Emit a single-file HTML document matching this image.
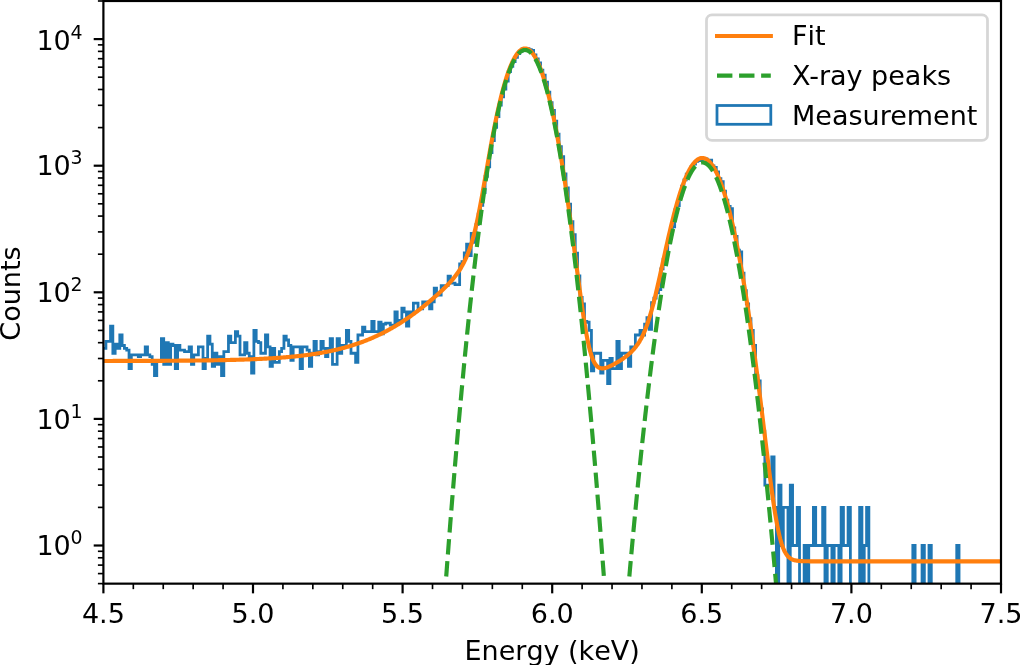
<!DOCTYPE html>
<html lang="en"><head><meta charset="utf-8"><title>Energy spectrum fit</title>
<style>
html,body{margin:0;padding:0;background:#fff;}
body{width:1020px;height:665px;overflow:hidden;}
svg{display:block;}
text{font-family:"DejaVu Sans","Liberation Sans",sans-serif;font-size:27.0px;fill:#000;}
</style></head><body>
<svg width="1020" height="665" viewBox="0 0 1020 665">
<rect width="1020" height="665" fill="#fff"/>
<defs><clipPath id="ax"><rect x="103.4" y="1.0" width="897.6" height="582.65"/></clipPath></defs>
<g clip-path="url(#ax)" fill="none" stroke-linejoin="miter">
<path d="M96.67,633.99 L96.67,366.36 L98.98,366.36 L98.98,341.32 L101.29,341.32 L101.29,348.47 L103.61,348.47 L103.61,348.47 L105.92,348.47 L105.92,341.32 L108.23,341.32 L108.23,341.32 L110.54,341.32 L110.54,326.18 L112.85,326.18 L112.85,353.26 L115.17,353.26 L115.17,344.07 L117.48,344.07 L117.48,348.47 L119.79,348.47 L119.79,334.99 L122.10,334.99 L122.10,345.50 L124.41,345.50 L124.41,348.47 L126.73,348.47 L126.73,350.02 L129.04,350.02 L129.04,368.52 L131.35,368.52 L131.35,354.95 L133.66,354.95 L133.66,354.95 L135.97,354.95 L135.97,354.95 L138.29,354.95 L138.29,356.69 L140.60,356.69 L140.60,354.95 L142.91,354.95 L142.91,354.95 L145.22,354.95 L145.22,346.97 L147.53,346.97 L147.53,354.95 L149.85,354.95 L149.85,356.69 L152.16,356.69 L152.16,364.29 L154.47,364.29 L154.47,375.55 L156.78,375.55 L156.78,360.36 L159.09,360.36 L159.09,360.36 L161.41,360.36 L161.41,338.70 L163.72,338.70 L163.72,364.29 L166.03,364.29 L166.03,342.68 L168.34,342.68 L168.34,364.29 L170.65,364.29 L170.65,344.07 L172.97,344.07 L172.97,345.50 L175.28,345.50 L175.28,368.52 L177.59,368.52 L177.59,345.50 L179.90,345.50 L179.90,350.02 L182.21,350.02 L182.21,350.02 L184.53,350.02 L184.53,351.61 L186.84,351.61 L186.84,351.61 L189.15,351.61 L189.15,346.97 L191.46,346.97 L191.46,364.29 L193.77,364.29 L193.77,354.95 L196.09,354.95 L196.09,354.95 L198.40,354.95 L198.40,346.97 L200.71,346.97 L200.71,346.97 L203.02,346.97 L203.02,368.52 L205.33,368.52 L205.33,358.50 L207.65,358.50 L207.65,336.20 L209.96,336.20 L209.96,344.07 L212.27,344.07 L212.27,366.36 L214.58,366.36 L214.58,353.26 L216.89,353.26 L216.89,364.29 L219.21,364.29 L219.21,356.69 L221.52,356.69 L221.52,375.55 L223.83,375.55 L223.83,351.61 L226.14,351.61 L226.14,351.61 L228.45,351.61 L228.45,336.20 L230.77,336.20 L230.77,342.68 L233.08,342.68 L233.08,342.68 L235.39,342.68 L235.39,331.52 L237.70,331.52 L237.70,336.20 L240.01,336.20 L240.01,354.95 L242.33,354.95 L242.33,354.95 L244.64,354.95 L244.64,342.68 L246.95,342.68 L246.95,353.26 L249.26,353.26 L249.26,356.69 L251.57,356.69 L251.57,373.11 L253.89,373.11 L253.89,330.41 L256.20,330.41 L256.20,341.32 L258.51,341.32 L258.51,342.68 L260.82,342.68 L260.82,353.26 L263.13,353.26 L263.13,353.26 L265.45,353.26 L265.45,334.99 L267.76,334.99 L267.76,346.97 L270.07,346.97 L270.07,366.36 L272.38,366.36 L272.38,348.47 L274.69,348.47 L274.69,362.29 L277.01,362.29 L277.01,362.29 L279.32,362.29 L279.32,351.61 L281.63,351.61 L281.63,348.47 L283.94,348.47 L283.94,336.20 L286.25,336.20 L286.25,340.00 L288.57,340.00 L288.57,345.50 L290.88,345.50 L290.88,360.36 L293.19,360.36 L293.19,346.97 L295.50,346.97 L295.50,346.97 L297.81,346.97 L297.81,346.97 L300.13,346.97 L300.13,368.52 L302.44,368.52 L302.44,346.97 L304.75,346.97 L304.75,346.97 L307.06,346.97 L307.06,350.02 L309.37,350.02 L309.37,366.36 L311.69,366.36 L311.69,353.26 L314.00,353.26 L314.00,341.32 L316.31,341.32 L316.31,354.95 L318.62,354.95 L318.62,351.61 L320.93,351.61 L320.93,341.32 L323.25,341.32 L323.25,348.47 L325.56,348.47 L325.56,356.69 L327.87,356.69 L327.87,348.47 L330.18,348.47 L330.18,338.70 L332.49,338.70 L332.49,364.29 L334.81,364.29 L334.81,364.29 L337.12,364.29 L337.12,338.70 L339.43,338.70 L339.43,353.26 L341.74,353.26 L341.74,345.50 L344.05,345.50 L344.05,345.50 L346.37,345.50 L346.37,330.41 L348.68,330.41 L348.68,341.32 L350.99,341.32 L350.99,353.26 L353.30,353.26 L353.30,353.26 L355.61,353.26 L355.61,362.29 L357.93,362.29 L357.93,334.99 L360.24,334.99 L360.24,334.99 L362.55,334.99 L362.55,327.21 L364.86,327.21 L364.86,331.52 L367.17,331.52 L367.17,331.52 L369.49,331.52 L369.49,331.52 L371.80,331.52 L371.80,321.31 L374.11,321.31 L374.11,331.52 L376.42,331.52 L376.42,331.52 L378.73,331.52 L378.73,322.25 L381.05,322.25 L381.05,333.81 L383.36,333.81 L383.36,324.18 L385.67,324.18 L385.67,323.21 L387.98,323.21 L387.98,323.21 L390.29,323.21 L390.29,325.17 L392.61,325.17 L392.61,325.17 L394.92,325.17 L394.92,311.91 L397.23,311.91 L397.23,322.25 L399.54,322.25 L399.54,320.39 L401.85,320.39 L401.85,308.12 L404.17,308.12 L404.17,311.91 L406.48,311.91 L406.48,326.18 L408.79,326.18 L408.79,311.91 L411.10,311.91 L411.10,313.50 L413.41,313.50 L413.41,303.21 L415.73,303.21 L415.73,303.21 L418.04,303.21 L418.04,308.86 L420.35,308.86 L420.35,308.86 L422.66,308.86 L422.66,301.89 L424.97,301.89 L424.97,301.89 L427.29,301.89 L427.29,301.89 L429.60,301.89 L429.60,308.86 L431.91,308.86 L431.91,301.89 L434.22,301.89 L434.22,288.07 L436.53,288.07 L436.53,295.12 L438.85,295.12 L438.85,295.12 L441.16,295.12 L441.16,285.58 L443.47,285.58 L443.47,285.58 L445.78,285.58 L445.78,285.58 L448.09,285.58 L448.09,276.21 L450.41,276.21 L450.41,283.20 L452.72,283.20 L452.72,283.20 L455.03,283.20 L455.03,284.62 L457.34,284.62 L457.34,284.62 L459.65,284.62 L459.65,263.78 L461.97,263.78 L461.97,261.53 L464.28,261.53 L464.28,252.83 L466.59,252.83 L466.59,244.17 L468.90,244.17 L468.90,255.58 L471.21,255.58 L471.21,233.38 L473.53,233.38 L473.53,242.36 L475.84,242.36 L475.84,224.69 L478.15,224.69 L478.15,214.19 L480.46,214.19 L480.46,205.26 L482.77,205.26 L482.77,192.52 L485.09,192.52 L485.09,176.41 L487.40,176.41 L487.40,166.81 L489.71,166.81 L489.71,152.56 L492.02,152.56 L492.02,140.69 L494.33,140.69 L494.33,127.48 L496.65,127.48 L496.65,116.66 L498.96,116.66 L498.96,105.17 L501.27,105.17 L501.27,96.77 L503.58,96.77 L503.58,89.05 L505.89,89.05 L505.89,81.08 L508.21,81.08 L508.21,71.72 L510.52,71.72 L510.52,66.28 L512.83,66.28 L512.83,61.68 L515.14,61.68 L515.14,57.41 L517.45,57.41 L517.45,53.63 L519.77,53.63 L519.77,51.27 L522.08,51.27 L522.08,48.88 L524.39,48.88 L524.39,48.52 L526.70,48.52 L526.70,48.61 L529.01,48.61 L529.01,49.72 L531.33,49.72 L531.33,50.47 L533.64,50.47 L533.64,54.99 L535.95,54.99 L535.95,58.83 L538.26,58.83 L538.26,62.95 L540.57,62.95 L540.57,70.13 L542.89,70.13 L542.89,75.21 L545.20,75.21 L545.20,82.15 L547.51,82.15 L547.51,92.08 L549.82,92.08 L549.82,102.75 L552.13,102.75 L552.13,110.50 L554.45,110.50 L554.45,121.21 L556.76,121.21 L556.76,134.24 L559.07,134.24 L559.07,146.73 L561.38,146.73 L561.38,156.69 L563.69,156.69 L563.69,173.80 L566.01,173.80 L566.01,187.97 L568.32,187.97 L568.32,204.14 L570.63,204.14 L570.63,221.72 L572.94,221.72 L572.94,234.52 L575.25,234.52 L575.25,253.10 L577.57,253.10 L577.57,275.80 L579.88,275.80 L579.88,297.49 L582.19,297.49 L582.19,303.89 L584.50,303.89 L584.50,321.31 L586.81,321.31 L586.81,322.25 L589.13,322.25 L589.13,330.41 L591.44,330.41 L591.44,370.77 L593.75,370.77 L593.75,353.26 L596.06,353.26 L596.06,353.26 L598.37,353.26 L598.37,353.26 L600.69,353.26 L600.69,373.11 L603.00,373.11 L603.00,360.36 L605.31,360.36 L605.31,360.36 L607.62,360.36 L607.62,383.61 L609.93,383.61 L609.93,358.50 L612.25,358.50 L612.25,368.52 L614.56,368.52 L614.56,368.52 L616.87,368.52 L616.87,341.32 L619.18,341.32 L619.18,368.52 L621.49,368.52 L621.49,353.26 L623.81,353.26 L623.81,353.26 L626.12,353.26 L626.12,353.26 L628.43,353.26 L628.43,366.36 L630.74,366.36 L630.74,346.97 L633.05,346.97 L633.05,346.97 L635.37,346.97 L635.37,334.99 L637.68,334.99 L637.68,334.99 L639.99,334.99 L639.99,330.41 L642.30,330.41 L642.30,334.99 L644.61,334.99 L644.61,324.18 L646.93,324.18 L646.93,317.70 L649.24,317.70 L649.24,329.32 L651.55,329.32 L651.55,302.54 L653.86,302.54 L653.86,298.09 L656.17,298.09 L656.17,292.85 L658.49,292.85 L658.49,289.62 L660.80,289.62 L660.80,268.92 L663.11,268.92 L663.11,259.37 L665.42,259.37 L665.42,250.73 L667.73,250.73 L667.73,242.81 L670.05,242.81 L670.05,233.95 L672.36,233.95 L672.36,226.82 L674.67,226.82 L674.67,209.97 L676.98,209.97 L676.98,205.71 L679.29,205.71 L679.29,196.13 L681.61,196.13 L681.61,186.26 L683.92,186.26 L683.92,179.79 L686.23,179.79 L686.23,174.25 L688.54,174.25 L688.54,171.74 L690.85,171.74 L690.85,166.98 L693.17,166.98 L693.17,164.13 L695.48,164.13 L695.48,161.42 L697.79,161.42 L697.79,159.81 L700.10,159.81 L700.10,160.56 L702.41,160.56 L702.41,158.98 L704.73,158.98 L704.73,158.88 L707.04,158.88 L707.04,160.61 L709.35,160.61 L709.35,160.16 L711.66,160.16 L711.66,165.92 L713.97,165.92 L713.97,167.43 L716.29,167.43 L716.29,171.86 L718.60,171.86 L718.60,178.52 L720.91,178.52 L720.91,181.66 L723.22,181.66 L723.22,191.02 L725.53,191.02 L725.53,200.19 L727.85,200.19 L727.85,206.28 L730.16,206.28 L730.16,208.75 L732.47,208.75 L732.47,227.83 L734.78,227.83 L734.78,236.28 L737.09,236.28 L737.09,250.21 L739.41,250.21 L739.41,251.77 L741.72,251.77 L741.72,273.02 L744.03,273.02 L744.03,290.67 L746.34,290.67 L746.34,303.89 L748.65,303.89 L748.65,318.58 L750.97,318.58 L750.97,330.41 L753.28,330.41 L753.28,345.50 L755.59,345.50 L755.59,375.55 L757.90,375.55 L757.90,380.79 L760.21,380.79 L760.21,408.88 L762.53,408.88 L762.53,431.17 L764.84,431.17 L764.84,485.10 L767.15,485.10 L767.15,485.10 L769.46,485.10 L769.46,485.10 L771.77,485.10 L771.77,457.01 L774.09,457.01 L774.09,507.39 L776.40,507.39 L776.40,633.99 L778.71,633.99 L778.71,485.10 L781.02,485.10 L781.02,545.50 L783.33,545.50 L783.33,507.39 L785.65,507.39 L785.65,507.39 L787.96,507.39 L787.96,633.99 L790.27,633.99 L790.27,485.10 L792.58,485.10 L792.58,545.50 L794.89,545.50 L794.89,545.50 L797.21,545.50 L797.21,507.39 L799.52,507.39 L799.52,633.99 L801.83,633.99 L801.83,633.99 L804.14,633.99 L804.14,545.50 L806.45,545.50 L806.45,633.99 L808.77,633.99 L808.77,545.50 L811.08,545.50 L811.08,545.50 L813.39,545.50 L813.39,507.39 L815.70,507.39 L815.70,545.50 L818.01,545.50 L818.01,545.50 L820.33,545.50 L820.33,545.50 L822.64,545.50 L822.64,507.39 L824.95,507.39 L824.95,633.99 L827.26,633.99 L827.26,545.50 L829.57,545.50 L829.57,545.50 L831.89,545.50 L831.89,633.99 L834.20,633.99 L834.20,545.50 L836.51,545.50 L836.51,545.50 L838.82,545.50 L838.82,633.99 L841.13,633.99 L841.13,507.39 L843.45,507.39 L843.45,545.50 L845.76,545.50 L845.76,545.50 L848.07,545.50 L848.07,507.39 L850.38,507.39 L850.38,633.99 L852.69,633.99 L852.69,633.99 L855.01,633.99 L855.01,633.99 L857.32,633.99 L857.32,633.99 L859.63,633.99 L859.63,507.39 L861.94,507.39 L861.94,633.99 L864.25,633.99 L864.25,545.50 L866.57,545.50 L866.57,507.39 L868.88,507.39 L868.88,633.99 L871.19,633.99 L871.19,633.99 L873.50,633.99 L873.50,633.99 L875.81,633.99 L875.81,633.99 L878.13,633.99 L878.13,633.99 L880.44,633.99 L880.44,633.99 L882.75,633.99 L882.75,633.99 L885.06,633.99 L885.06,633.99 L887.37,633.99 L887.37,633.99 L889.69,633.99 L889.69,633.99 L892.00,633.99 L892.00,633.99 L894.31,633.99 L894.31,633.99 L896.62,633.99 L896.62,633.99 L898.93,633.99 L898.93,633.99 L901.25,633.99 L901.25,633.99 L903.56,633.99 L903.56,633.99 L905.87,633.99 L905.87,633.99 L908.18,633.99 L908.18,633.99 L910.49,633.99 L910.49,633.99 L912.81,633.99 L912.81,545.50 L915.12,545.50 L915.12,633.99 L917.43,633.99 L917.43,633.99 L919.74,633.99 L919.74,633.99 L922.05,633.99 L922.05,545.50 L924.37,545.50 L924.37,633.99 L926.68,633.99 L926.68,633.99 L928.99,633.99 L928.99,545.50 L931.30,545.50 L931.30,633.99 L933.61,633.99 L933.61,633.99 L935.93,633.99 L935.93,633.99 L938.24,633.99 L938.24,633.99 L940.55,633.99 L940.55,633.99 L942.86,633.99 L942.86,633.99 L945.17,633.99 L945.17,633.99 L947.49,633.99 L947.49,633.99 L949.80,633.99 L949.80,633.99 L952.11,633.99 L952.11,633.99 L954.42,633.99 L954.42,633.99 L956.73,633.99 L956.73,545.50 L959.05,545.50 L959.05,633.99 L961.36,633.99 L961.36,633.99 L963.67,633.99 L963.67,633.99 L965.98,633.99 L965.98,633.99" stroke="#1f77b4" stroke-width="2.78"/>
<path d="M103.40,360.97 L104.15,360.97 L104.90,360.97 L105.64,360.97 L106.39,360.97 L107.14,360.96 L107.89,360.96 L108.64,360.96 L109.38,360.96 L110.13,360.96 L110.88,360.96 L111.63,360.96 L112.38,360.96 L113.12,360.95 L113.87,360.95 L114.62,360.95 L115.37,360.95 L116.12,360.95 L116.86,360.95 L117.61,360.95 L118.36,360.95 L119.11,360.94 L119.86,360.94 L120.60,360.94 L121.35,360.94 L122.10,360.94 L122.85,360.94 L123.60,360.93 L124.34,360.93 L125.09,360.93 L125.84,360.93 L126.59,360.93 L127.34,360.93 L128.08,360.92 L128.83,360.92 L129.58,360.92 L130.33,360.92 L131.08,360.92 L131.82,360.92 L132.57,360.91 L133.32,360.91 L134.07,360.91 L134.82,360.91 L135.56,360.91 L136.31,360.90 L137.06,360.90 L137.81,360.90 L138.56,360.90 L139.30,360.89 L140.05,360.89 L140.80,360.89 L141.55,360.89 L142.30,360.88 L143.04,360.88 L143.79,360.88 L144.54,360.88 L145.29,360.87 L146.04,360.87 L146.78,360.87 L147.53,360.87 L148.28,360.86 L149.03,360.86 L149.78,360.86 L150.52,360.86 L151.27,360.85 L152.02,360.85 L152.77,360.85 L153.52,360.84 L154.26,360.84 L155.01,360.84 L155.76,360.83 L156.51,360.83 L157.26,360.83 L158.00,360.82 L158.75,360.82 L159.50,360.82 L160.25,360.81 L161.00,360.81 L161.74,360.80 L162.49,360.80 L163.24,360.80 L163.99,360.79 L164.74,360.79 L165.48,360.78 L166.23,360.78 L166.98,360.78 L167.73,360.77 L168.48,360.77 L169.22,360.76 L169.97,360.76 L170.72,360.75 L171.47,360.75 L172.22,360.74 L172.96,360.74 L173.71,360.73 L174.46,360.73 L175.21,360.72 L175.96,360.72 L176.70,360.71 L177.45,360.71 L178.20,360.70 L178.95,360.70 L179.70,360.69 L180.44,360.68 L181.19,360.68 L181.94,360.67 L182.69,360.67 L183.44,360.66 L184.18,360.65 L184.93,360.65 L185.68,360.64 L186.43,360.63 L187.18,360.63 L187.92,360.62 L188.67,360.61 L189.42,360.60 L190.17,360.60 L190.92,360.59 L191.66,360.58 L192.41,360.57 L193.16,360.57 L193.91,360.56 L194.66,360.55 L195.40,360.54 L196.15,360.53 L196.90,360.53 L197.65,360.52 L198.40,360.51 L199.14,360.50 L199.89,360.49 L200.64,360.48 L201.39,360.47 L202.14,360.46 L202.88,360.45 L203.63,360.44 L204.38,360.43 L205.13,360.42 L205.88,360.41 L206.62,360.40 L207.37,360.39 L208.12,360.38 L208.87,360.37 L209.62,360.36 L210.36,360.34 L211.11,360.33 L211.86,360.32 L212.61,360.31 L213.36,360.30 L214.10,360.28 L214.85,360.27 L215.60,360.26 L216.35,360.24 L217.10,360.23 L217.84,360.22 L218.59,360.20 L219.34,360.19 L220.09,360.17 L220.84,360.16 L221.58,360.14 L222.33,360.13 L223.08,360.11 L223.83,360.10 L224.58,360.08 L225.32,360.06 L226.07,360.05 L226.82,360.03 L227.57,360.01 L228.32,360.00 L229.06,359.98 L229.81,359.96 L230.56,359.94 L231.31,359.92 L232.06,359.90 L232.80,359.89 L233.55,359.87 L234.30,359.85 L235.05,359.83 L235.80,359.80 L236.54,359.78 L237.29,359.76 L238.04,359.74 L238.79,359.72 L239.54,359.70 L240.28,359.67 L241.03,359.65 L241.78,359.63 L242.53,359.60 L243.28,359.58 L244.02,359.55 L244.77,359.53 L245.52,359.50 L246.27,359.48 L247.02,359.45 L247.76,359.42 L248.51,359.39 L249.26,359.37 L250.01,359.34 L250.76,359.31 L251.50,359.28 L252.25,359.25 L253.00,359.22 L253.75,359.19 L254.50,359.16 L255.24,359.13 L255.99,359.09 L256.74,359.06 L257.49,359.03 L258.24,358.99 L258.98,358.96 L259.73,358.92 L260.48,358.89 L261.23,358.85 L261.98,358.81 L262.72,358.77 L263.47,358.74 L264.22,358.70 L264.97,358.66 L265.72,358.62 L266.46,358.58 L267.21,358.53 L267.96,358.49 L268.71,358.45 L269.46,358.40 L270.20,358.36 L270.95,358.31 L271.70,358.27 L272.45,358.22 L273.20,358.17 L273.94,358.13 L274.69,358.08 L275.44,358.03 L276.19,357.98 L276.94,357.92 L277.68,357.87 L278.43,357.82 L279.18,357.76 L279.93,357.71 L280.68,357.65 L281.42,357.60 L282.17,357.54 L282.92,357.48 L283.67,357.42 L284.42,357.36 L285.16,357.30 L285.91,357.24 L286.66,357.17 L287.41,357.11 L288.16,357.04 L288.90,356.97 L289.65,356.91 L290.40,356.84 L291.15,356.77 L291.90,356.70 L292.64,356.62 L293.39,356.55 L294.14,356.48 L294.89,356.40 L295.64,356.32 L296.38,356.24 L297.13,356.16 L297.88,356.08 L298.63,356.00 L299.38,355.92 L300.12,355.83 L300.87,355.75 L301.62,355.66 L302.37,355.57 L303.12,355.48 L303.86,355.39 L304.61,355.30 L305.36,355.20 L306.11,355.11 L306.86,355.01 L307.60,354.91 L308.35,354.81 L309.10,354.71 L309.85,354.60 L310.60,354.50 L311.34,354.39 L312.09,354.28 L312.84,354.17 L313.59,354.06 L314.34,353.94 L315.08,353.83 L315.83,353.71 L316.58,353.59 L317.33,353.47 L318.08,353.35 L318.82,353.23 L319.57,353.10 L320.32,352.97 L321.07,352.84 L321.82,352.71 L322.56,352.57 L323.31,352.44 L324.06,352.30 L324.81,352.16 L325.56,352.02 L326.30,351.87 L327.05,351.73 L327.80,351.58 L328.55,351.43 L329.30,351.27 L330.04,351.12 L330.79,350.96 L331.54,350.80 L332.29,350.64 L333.04,350.48 L333.78,350.31 L334.53,350.14 L335.28,349.97 L336.03,349.79 L336.78,349.62 L337.52,349.44 L338.27,349.26 L339.02,349.07 L339.77,348.89 L340.52,348.70 L341.26,348.51 L342.01,348.31 L342.76,348.11 L343.51,347.91 L344.26,347.71 L345.00,347.51 L345.75,347.30 L346.50,347.09 L347.25,346.87 L348.00,346.66 L348.74,346.44 L349.49,346.22 L350.24,345.99 L350.99,345.76 L351.74,345.53 L352.48,345.30 L353.23,345.06 L353.98,344.82 L354.73,344.57 L355.48,344.33 L356.22,344.08 L356.97,343.83 L357.72,343.57 L358.47,343.31 L359.22,343.05 L359.96,342.78 L360.71,342.51 L361.46,342.24 L362.21,341.96 L362.96,341.68 L363.70,341.40 L364.45,341.11 L365.20,340.82 L365.95,340.53 L366.70,340.23 L367.44,339.93 L368.19,339.63 L368.94,339.32 L369.69,339.01 L370.44,338.70 L371.18,338.38 L371.93,338.06 L372.68,337.73 L373.43,337.40 L374.18,337.07 L374.92,336.73 L375.67,336.39 L376.42,336.05 L377.17,335.70 L377.92,335.35 L378.66,334.99 L379.41,334.63 L380.16,334.27 L380.91,333.90 L381.66,333.53 L382.40,333.16 L383.15,332.78 L383.90,332.39 L384.65,332.01 L385.40,331.62 L386.14,331.22 L386.89,330.82 L387.64,330.42 L388.39,330.01 L389.14,329.60 L389.88,329.19 L390.63,328.77 L391.38,328.35 L392.13,327.92 L392.88,327.49 L393.62,327.05 L394.37,326.61 L395.12,326.17 L395.87,325.72 L396.62,325.27 L397.36,324.82 L398.11,324.36 L398.86,323.90 L399.61,323.43 L400.36,322.96 L401.10,322.48 L401.85,322.00 L402.60,321.52 L403.35,321.03 L404.10,320.54 L404.84,320.04 L405.59,319.54 L406.34,319.04 L407.09,318.53 L407.84,318.02 L408.58,317.50 L409.33,316.98 L410.08,316.45 L410.83,315.93 L411.58,315.39 L412.32,314.86 L413.07,314.32 L413.82,313.77 L414.57,313.22 L415.32,312.67 L416.06,312.11 L416.81,311.55 L417.56,310.99 L418.31,310.42 L419.06,309.85 L419.80,309.27 L420.55,308.69 L421.30,308.11 L422.05,307.52 L422.80,306.93 L423.54,306.33 L424.29,305.73 L425.04,305.13 L425.79,304.52 L426.54,303.91 L427.28,303.30 L428.03,302.68 L428.78,302.05 L429.53,301.43 L430.28,300.80 L431.02,300.16 L431.77,299.53 L432.52,298.88 L433.27,298.24 L434.02,297.59 L434.76,296.94 L435.51,296.28 L436.26,295.62 L437.01,294.95 L437.76,294.28 L438.50,293.60 L439.25,292.92 L440.00,292.24 L440.75,291.54 L441.50,290.85 L442.24,290.14 L442.99,289.43 L443.74,288.72 L444.49,287.99 L445.24,287.26 L445.98,286.52 L446.73,285.77 L447.48,285.01 L448.23,284.23 L448.98,283.45 L449.72,282.65 L450.47,281.83 L451.22,281.00 L451.97,280.15 L452.72,279.28 L453.46,278.38 L454.21,277.47 L454.96,276.53 L455.71,275.56 L456.46,274.56 L457.20,273.54 L457.95,272.47 L458.70,271.37 L459.45,270.24 L460.20,269.06 L460.94,267.83 L461.69,266.56 L462.44,265.24 L463.19,263.86 L463.94,262.42 L464.68,260.91 L465.43,259.34 L466.18,257.69 L466.93,255.97 L467.68,254.15 L468.42,252.24 L469.17,250.23 L469.92,248.11 L470.67,245.88 L471.42,243.53 L472.16,241.04 L472.91,238.43 L473.66,235.67 L474.41,232.78 L475.16,229.74 L475.90,226.56 L476.65,223.24 L477.40,219.78 L478.15,216.20 L478.90,212.49 L479.64,208.66 L480.39,204.73 L481.14,200.71 L481.89,196.61 L482.64,192.45 L483.38,188.23 L484.13,183.97 L484.88,179.68 L485.63,175.38 L486.38,171.07 L487.12,166.78 L487.87,162.50 L488.62,158.25 L489.37,154.03 L490.12,149.86 L490.86,145.74 L491.61,141.68 L492.36,137.68 L493.11,133.75 L493.86,129.89 L494.60,126.10 L495.35,122.39 L496.10,118.77 L496.85,115.22 L497.60,111.76 L498.34,108.39 L499.09,105.10 L499.84,101.90 L500.59,98.79 L501.34,95.78 L502.08,92.85 L502.83,90.01 L503.58,87.27 L504.33,84.62 L505.08,82.06 L505.82,79.60 L506.57,77.22 L507.32,74.95 L508.07,72.76 L508.82,70.67 L509.56,68.67 L510.31,66.77 L511.06,64.96 L511.81,63.25 L512.56,61.62 L513.30,60.10 L514.05,58.66 L514.80,57.33 L515.55,56.08 L516.30,54.93 L517.04,53.88 L517.79,52.92 L518.54,52.05 L519.29,51.28 L520.04,50.60 L520.78,50.02 L521.53,49.53 L522.28,49.14 L523.03,48.84 L523.78,48.63 L524.52,48.52 L525.27,48.51 L526.02,48.58 L526.77,48.76 L527.52,49.03 L528.26,49.39 L529.01,49.85 L529.76,50.40 L530.51,51.04 L531.26,51.78 L532.00,52.62 L532.75,53.55 L533.50,54.57 L534.25,55.69 L535.00,56.91 L535.74,58.21 L536.49,59.62 L537.24,61.11 L537.99,62.70 L538.74,64.39 L539.48,66.17 L540.23,68.04 L540.98,70.01 L541.73,72.07 L542.48,74.23 L543.22,76.48 L543.97,78.83 L544.72,81.27 L545.47,83.80 L546.22,86.43 L546.96,89.15 L547.71,91.96 L548.46,94.87 L549.21,97.87 L549.96,100.97 L550.70,104.15 L551.45,107.44 L552.20,110.81 L552.95,114.28 L553.70,117.83 L554.44,121.49 L555.19,125.23 L555.94,129.06 L556.69,132.99 L557.44,137.00 L558.18,141.11 L558.93,145.31 L559.68,149.59 L560.43,153.96 L561.18,158.42 L561.92,162.97 L562.67,167.60 L563.42,172.32 L564.17,177.12 L564.92,182.00 L565.66,186.96 L566.41,192.00 L567.16,197.12 L567.91,202.31 L568.66,207.56 L569.40,212.89 L570.15,218.28 L570.90,223.73 L571.65,229.23 L572.40,234.78 L573.14,240.37 L573.89,246.00 L574.64,251.65 L575.39,257.33 L576.14,263.01 L576.88,268.70 L577.63,274.36 L578.38,280.00 L579.13,285.60 L579.88,291.13 L580.62,296.59 L581.37,301.96 L582.12,307.21 L582.87,312.32 L583.62,317.28 L584.36,322.06 L585.11,326.65 L585.86,331.02 L586.61,335.16 L587.36,339.05 L588.10,342.69 L588.85,346.05 L589.60,349.15 L590.35,351.97 L591.10,354.51 L591.84,356.80 L592.59,358.82 L593.34,360.60 L594.09,362.14 L594.84,363.47 L595.58,364.60 L596.33,365.55 L597.08,366.33 L597.83,366.95 L598.58,367.45 L599.32,367.82 L600.07,368.09 L600.82,368.26 L601.57,368.36 L602.32,368.38 L603.06,368.34 L603.81,368.25 L604.56,368.11 L605.31,367.93 L606.06,367.71 L606.80,367.47 L607.55,367.20 L608.30,366.91 L609.05,366.59 L609.80,366.26 L610.54,365.92 L611.29,365.56 L612.04,365.18 L612.79,364.80 L613.54,364.41 L614.28,364.00 L615.03,363.59 L615.78,363.17 L616.53,362.73 L617.28,362.30 L618.02,361.85 L618.77,361.39 L619.52,360.92 L620.27,360.45 L621.02,359.96 L621.76,359.47 L622.51,358.96 L623.26,358.44 L624.01,357.91 L624.76,357.37 L625.50,356.81 L626.25,356.24 L627.00,355.65 L627.75,355.04 L628.50,354.41 L629.24,353.76 L629.99,353.09 L630.74,352.39 L631.49,351.67 L632.24,350.91 L632.98,350.13 L633.73,349.31 L634.48,348.45 L635.23,347.54 L635.98,346.60 L636.72,345.60 L637.47,344.56 L638.22,343.46 L638.97,342.30 L639.72,341.07 L640.46,339.78 L641.21,338.42 L641.96,336.98 L642.71,335.46 L643.46,333.85 L644.20,332.16 L644.95,330.38 L645.70,328.51 L646.45,326.53 L647.20,324.46 L647.94,322.30 L648.69,320.03 L649.44,317.66 L650.19,315.20 L650.94,312.63 L651.68,309.97 L652.43,307.23 L653.18,304.39 L653.93,301.47 L654.68,298.47 L655.42,295.40 L656.17,292.27 L656.92,289.07 L657.67,285.82 L658.42,282.53 L659.16,279.20 L659.91,275.83 L660.66,272.44 L661.41,269.03 L662.16,265.61 L662.90,262.19 L663.65,258.76 L664.40,255.35 L665.15,251.95 L665.90,248.56 L666.64,245.21 L667.39,241.88 L668.14,238.58 L668.89,235.32 L669.64,232.10 L670.38,228.93 L671.13,225.81 L671.88,222.74 L672.63,219.72 L673.38,216.76 L674.12,213.86 L674.87,211.02 L675.62,208.24 L676.37,205.53 L677.12,202.89 L677.86,200.31 L678.61,197.80 L679.36,195.37 L680.11,193.00 L680.86,190.71 L681.60,188.49 L682.35,186.35 L683.10,184.28 L683.85,182.29 L684.60,180.37 L685.34,178.53 L686.09,176.77 L686.84,175.08 L687.59,173.48 L688.34,171.95 L689.08,170.50 L689.83,169.12 L690.58,167.83 L691.33,166.62 L692.08,165.49 L692.82,164.43 L693.57,163.46 L694.32,162.56 L695.07,161.75 L695.82,161.01 L696.56,160.36 L697.31,159.78 L698.06,159.29 L698.81,158.88 L699.56,158.54 L700.30,158.29 L701.05,158.12 L701.80,158.03 L702.55,158.02 L703.30,158.09 L704.04,158.24 L704.79,158.47 L705.54,158.79 L706.29,159.18 L707.04,159.66 L707.78,160.21 L708.53,160.85 L709.28,161.57 L710.03,162.36 L710.78,163.24 L711.52,164.20 L712.27,165.25 L713.02,166.37 L713.77,167.57 L714.52,168.86 L715.26,170.22 L716.01,171.67 L716.76,173.20 L717.51,174.80 L718.26,176.49 L719.00,178.27 L719.75,180.12 L720.50,182.05 L721.25,184.06 L722.00,186.16 L722.74,188.33 L723.49,190.59 L724.24,192.93 L724.99,195.35 L725.74,197.85 L726.48,200.43 L727.23,203.09 L727.98,205.83 L728.73,208.66 L729.48,211.56 L730.22,214.55 L730.97,217.62 L731.72,220.76 L732.47,223.99 L733.22,227.30 L733.96,230.69 L734.71,234.16 L735.46,237.71 L736.21,241.34 L736.96,245.05 L737.70,248.84 L738.45,252.71 L739.20,256.66 L739.95,260.69 L740.70,264.80 L741.44,268.99 L742.19,273.26 L742.94,277.61 L743.69,282.04 L744.44,286.54 L745.18,291.13 L745.93,295.79 L746.68,300.53 L747.43,305.34 L748.18,310.24 L748.92,315.20 L749.67,320.25 L750.42,325.37 L751.17,330.56 L751.92,335.82 L752.66,341.16 L753.41,346.56 L754.16,352.03 L754.91,357.58 L755.66,363.18 L756.40,368.85 L757.15,374.58 L757.90,380.37 L758.65,386.21 L759.40,392.10 L760.14,398.04 L760.89,404.02 L761.64,410.04 L762.39,416.08 L763.14,422.16 L763.88,428.25 L764.63,434.34 L765.38,440.44 L766.13,446.52 L766.88,452.59 L767.62,458.61 L768.37,464.58 L769.12,470.49 L769.87,476.31 L770.62,482.03 L771.36,487.64 L772.11,493.10 L772.86,498.41 L773.61,503.55 L774.36,508.48 L775.10,513.21 L775.85,517.70 L776.60,521.96 L777.35,525.95 L778.10,529.69 L778.84,533.16 L779.59,536.36 L780.34,539.29 L781.09,541.96 L781.84,544.37 L782.58,546.54 L783.33,548.49 L784.08,550.21 L784.83,551.74 L785.58,553.09 L786.32,554.26 L787.07,555.29 L787.82,556.18 L788.57,556.95 L789.32,557.62 L790.06,558.19 L790.81,558.68 L791.56,559.09 L792.31,559.45 L793.06,559.75 L793.80,560.00 L794.55,560.22 L795.30,560.40 L796.05,560.56 L796.80,560.68 L797.54,560.79 L798.29,560.88 L799.04,560.96 L799.79,561.02 L800.54,561.07 L801.28,561.12 L802.03,561.15 L802.78,561.18 L803.53,561.21 L804.28,561.23 L805.02,561.24 L805.77,561.26 L806.52,561.27 L807.27,561.28 L808.02,561.28 L808.76,561.29 L809.51,561.30 L810.26,561.30 L811.01,561.30 L811.76,561.31 L812.50,561.31 L813.25,561.31 L814.00,561.31 L814.75,561.31 L815.50,561.31 L816.24,561.31 L816.99,561.31 L817.74,561.32 L818.49,561.32 L819.24,561.32 L819.98,561.32 L820.73,561.32 L821.48,561.32 L822.23,561.32 L822.98,561.32 L823.72,561.32 L824.47,561.32 L825.22,561.32 L825.97,561.32 L826.72,561.32 L827.46,561.32 L828.21,561.32 L828.96,561.32 L829.71,561.32 L830.46,561.32 L831.20,561.32 L831.95,561.32 L832.70,561.32 L833.45,561.32 L834.20,561.32 L834.94,561.32 L835.69,561.32 L836.44,561.32 L837.19,561.32 L837.94,561.32 L838.68,561.32 L839.43,561.32 L840.18,561.32 L840.93,561.32 L841.68,561.32 L842.42,561.32 L843.17,561.32 L843.92,561.32 L844.67,561.32 L845.42,561.32 L846.16,561.32 L846.91,561.32 L847.66,561.32 L848.41,561.32 L849.16,561.32 L849.90,561.32 L850.65,561.32 L851.40,561.32 L852.15,561.32 L852.90,561.32 L853.64,561.32 L854.39,561.32 L855.14,561.32 L855.89,561.32 L856.64,561.32 L857.38,561.32 L858.13,561.32 L858.88,561.32 L859.63,561.32 L860.38,561.32 L861.12,561.32 L861.87,561.32 L862.62,561.32 L863.37,561.32 L864.12,561.32 L864.86,561.32 L865.61,561.32 L866.36,561.32 L867.11,561.32 L867.86,561.32 L868.60,561.32 L869.35,561.32 L870.10,561.32 L870.85,561.32 L871.60,561.32 L872.34,561.32 L873.09,561.32 L873.84,561.32 L874.59,561.32 L875.34,561.32 L876.08,561.32 L876.83,561.32 L877.58,561.32 L878.33,561.32 L879.08,561.32 L879.82,561.32 L880.57,561.32 L881.32,561.32 L882.07,561.32 L882.82,561.32 L883.56,561.32 L884.31,561.32 L885.06,561.32 L885.81,561.32 L886.56,561.32 L887.30,561.32 L888.05,561.32 L888.80,561.32 L889.55,561.32 L890.30,561.32 L891.04,561.32 L891.79,561.32 L892.54,561.32 L893.29,561.32 L894.04,561.32 L894.78,561.32 L895.53,561.32 L896.28,561.32 L897.03,561.32 L897.78,561.32 L898.52,561.32 L899.27,561.32 L900.02,561.32 L900.77,561.32 L901.52,561.32 L902.26,561.32 L903.01,561.32 L903.76,561.32 L904.51,561.32 L905.26,561.32 L906.00,561.32 L906.75,561.32 L907.50,561.32 L908.25,561.32 L909.00,561.32 L909.74,561.32 L910.49,561.32 L911.24,561.32 L911.99,561.32 L912.74,561.32 L913.48,561.32 L914.23,561.32 L914.98,561.32 L915.73,561.32 L916.48,561.32 L917.22,561.32 L917.97,561.32 L918.72,561.32 L919.47,561.32 L920.22,561.32 L920.96,561.32 L921.71,561.32 L922.46,561.32 L923.21,561.32 L923.96,561.32 L924.70,561.32 L925.45,561.32 L926.20,561.32 L926.95,561.32 L927.70,561.32 L928.44,561.32 L929.19,561.32 L929.94,561.32 L930.69,561.32 L931.44,561.32 L932.18,561.32 L932.93,561.32 L933.68,561.32 L934.43,561.32 L935.18,561.32 L935.92,561.32 L936.67,561.32 L937.42,561.32 L938.17,561.32 L938.92,561.32 L939.66,561.32 L940.41,561.32 L941.16,561.32 L941.91,561.32 L942.66,561.32 L943.40,561.32 L944.15,561.32 L944.90,561.32 L945.65,561.32 L946.40,561.32 L947.14,561.32 L947.89,561.32 L948.64,561.32 L949.39,561.32 L950.14,561.32 L950.88,561.32 L951.63,561.32 L952.38,561.32 L953.13,561.32 L953.88,561.32 L954.62,561.32 L955.37,561.32 L956.12,561.32 L956.87,561.32 L957.62,561.32 L958.36,561.32 L959.11,561.32 L959.86,561.32 L960.61,561.32 L961.36,561.32 L962.10,561.32 L962.85,561.32 L963.60,561.32 L964.35,561.32 L965.10,561.32 L965.84,561.32 L966.59,561.32 L967.34,561.32 L968.09,561.32 L968.84,561.32 L969.58,561.32 L970.33,561.32 L971.08,561.32 L971.83,561.32 L972.58,561.32 L973.32,561.32 L974.07,561.32 L974.82,561.32 L975.57,561.32 L976.32,561.32 L977.06,561.32 L977.81,561.32 L978.56,561.32 L979.31,561.32 L980.06,561.32 L980.80,561.32 L981.55,561.32 L982.30,561.32 L983.05,561.32 L983.80,561.32 L984.54,561.32 L985.29,561.32 L986.04,561.32 L986.79,561.32 L987.54,561.32 L988.28,561.32 L989.03,561.32 L989.78,561.32 L990.53,561.32 L991.28,561.32 L992.02,561.32 L992.77,561.32 L993.52,561.32 L994.27,561.32 L995.02,561.32 L995.76,561.32 L996.51,561.32 L997.26,561.32 L998.01,561.32 L998.76,561.32 L999.50,561.32 L1000.25,561.32 L1001.00,561.32" stroke="#ff7f0e" stroke-width="4.17" stroke-linejoin="round"/>
<path d="M446.21,576.50 L446.53,572.28 L446.84,568.08 L447.16,563.89 L447.47,559.72 L447.79,555.57 L448.11,551.43 L448.42,547.31 L448.74,543.21 L449.06,539.13 L449.37,535.06 L449.69,531.01 L450.01,526.97 L450.32,522.96 L450.64,518.96 L450.96,514.97 L451.27,511.01 L451.59,507.06 L451.91,503.13 L452.22,499.21 L452.54,495.31 L452.86,491.43 L453.17,487.57 L453.49,483.72 L453.81,479.89 L454.12,476.08 L454.44,472.28 L454.76,468.50 L455.07,464.74 L455.39,460.99 L455.71,457.26 L456.02,453.55 L456.34,449.86 L456.66,446.18 L456.97,442.52 L457.29,438.88 L457.61,435.25 L457.92,431.64 L458.24,428.05 L458.56,424.47 L458.87,420.92 L459.19,417.37 L459.51,413.85 L459.82,410.34 L460.14,406.85 L460.46,403.38 L460.77,399.92 L461.09,396.48 L461.41,393.06 L461.72,389.65 L462.04,386.27 L462.36,382.89 L462.67,379.54 L462.99,376.20 L463.31,372.88 L463.62,369.58 L463.94,366.29 L464.25,363.02 L464.57,359.77 L464.89,356.53 L465.20,353.32 L465.52,350.11 L465.84,346.93 L466.15,343.76 L466.47,340.61 L466.79,337.48 L467.10,334.36 L467.42,331.26 L467.74,328.18 L468.05,325.11 L468.37,322.06 L468.69,319.03 L469.00,316.02 L469.32,313.02 L469.64,310.04 L469.95,307.07 L470.27,304.13 L470.59,301.20 L470.90,298.28 L471.22,295.39 L471.54,292.51 L471.85,289.65 L472.17,286.80 L472.49,283.98 L472.80,281.16 L473.12,278.37 L473.44,275.59 L473.75,272.83 L474.07,270.09 L474.39,267.36 L474.70,264.66 L475.02,261.96 L475.34,259.29 L475.65,256.63 L475.97,253.99 L476.29,251.37 L476.60,248.76 L476.92,246.17 L477.24,243.59 L477.55,241.04 L477.87,238.50 L478.19,235.98 L478.50,233.47 L478.82,230.98 L479.14,228.51 L479.45,226.06 L479.77,223.62 L480.09,221.20 L480.40,218.80 L480.72,216.41 L481.04,214.04 L481.35,211.69 L481.67,209.36 L481.98,207.04 L482.30,204.74 L482.62,202.45 L482.93,200.18 L483.25,197.93 L483.57,195.70 L483.88,193.48 L484.20,191.28 L484.52,189.10 L484.83,186.94 L485.15,184.79 L485.47,182.66 L485.78,180.54 L486.10,178.45 L486.42,176.36 L486.73,174.30 L487.05,172.25 L487.37,170.23 L487.68,168.21 L488.00,166.22 L488.32,164.24 L488.63,162.28 L488.95,160.33 L489.27,158.41 L489.58,156.49 L489.90,154.60 L490.22,152.72 L490.53,150.86 L490.85,149.02 L491.17,147.20 L491.48,145.39 L491.80,143.60 L492.12,141.82 L492.43,140.06 L492.75,138.32 L493.07,136.60 L493.38,134.89 L493.70,133.20 L494.02,131.53 L494.33,129.87 L494.65,128.24 L494.97,126.61 L495.28,125.01 L495.60,123.42 L495.92,121.85 L496.23,120.30 L496.55,118.76 L496.87,117.24 L497.18,115.74 L497.50,114.25 L497.82,112.78 L498.13,111.33 L498.45,109.90 L498.77,108.48 L499.08,107.08 L499.40,105.69 L499.71,104.33 L500.03,102.98 L500.35,101.64 L500.66,100.33 L500.98,99.03 L501.30,97.75 L501.61,96.48 L501.93,95.23 L502.25,94.00 L502.56,92.79 L502.88,91.59 L503.20,90.41 L503.51,89.25 L503.83,88.10 L504.15,86.97 L504.46,85.86 L504.78,84.77 L505.10,83.69 L505.41,82.63 L505.73,81.58 L506.05,80.55 L506.36,79.54 L506.68,78.55 L507.00,77.57 L507.31,76.62 L507.63,75.67 L507.95,74.75 L508.26,73.84 L508.58,72.95 L508.90,72.07 L509.21,71.22 L509.53,70.38 L509.85,69.55 L510.16,68.75 L510.48,67.96 L510.80,67.19 L511.11,66.43 L511.43,65.69 L511.75,64.97 L512.06,64.27 L512.38,63.58 L512.70,62.91 L513.01,62.25 L513.33,61.62 L513.65,61.00 L513.96,60.40 L514.28,59.81 L514.60,59.24 L514.91,58.69 L515.23,58.16 L515.55,57.64 L515.86,57.14 L516.18,56.65 L516.50,56.19 L516.81,55.74 L517.13,55.31 L517.44,54.89 L517.76,54.49 L518.08,54.11 L518.39,53.74 L518.71,53.40 L519.03,53.07 L519.34,52.75 L519.66,52.46 L519.98,52.18 L520.29,51.91 L520.61,51.67 L520.93,51.44 L521.24,51.23 L521.56,51.03 L521.88,50.85 L522.19,50.69 L522.51,50.55 L522.83,50.42 L523.14,50.31 L523.46,50.22 L523.78,50.14 L524.09,50.09 L524.41,50.04 L524.73,50.02 L525.04,50.01 L525.36,50.02 L525.68,50.05 L525.99,50.09 L526.31,50.15 L526.63,50.23 L526.94,50.32 L527.26,50.43 L527.58,50.56 L527.89,50.70 L528.21,50.87 L528.53,51.05 L528.84,51.24 L529.16,51.45 L529.48,51.68 L529.79,51.93 L530.11,52.19 L530.43,52.48 L530.74,52.77 L531.06,53.09 L531.38,53.42 L531.69,53.77 L532.01,54.14 L532.33,54.52 L532.64,54.92 L532.96,55.33 L533.28,55.77 L533.59,56.22 L533.91,56.69 L534.23,57.17 L534.54,57.67 L534.86,58.19 L535.17,58.73 L535.49,59.28 L535.81,59.85 L536.12,60.44 L536.44,61.04 L536.76,61.66 L537.07,62.30 L537.39,62.95 L537.71,63.62 L538.02,64.31 L538.34,65.02 L538.66,65.74 L538.97,66.48 L539.29,67.24 L539.61,68.01 L539.92,68.80 L540.24,69.61 L540.56,70.43 L540.87,71.28 L541.19,72.13 L541.51,73.01 L541.82,73.90 L542.14,74.81 L542.46,75.74 L542.77,76.68 L543.09,77.64 L543.41,78.62 L543.72,79.61 L544.04,80.62 L544.36,81.65 L544.67,82.70 L544.99,83.76 L545.31,84.84 L545.62,85.94 L545.94,87.05 L546.26,88.18 L546.57,89.33 L546.89,90.49 L547.21,91.67 L547.52,92.87 L547.84,94.09 L548.16,95.32 L548.47,96.57 L548.79,97.83 L549.11,99.12 L549.42,100.42 L549.74,101.73 L550.06,103.07 L550.37,104.42 L550.69,105.79 L551.01,107.17 L551.32,108.57 L551.64,109.99 L551.96,111.43 L552.27,112.88 L552.59,114.35 L552.90,115.84 L553.22,117.34 L553.54,118.87 L553.85,120.40 L554.17,121.96 L554.49,123.53 L554.80,125.12 L555.12,126.73 L555.44,128.35 L555.75,129.99 L556.07,131.64 L556.39,133.32 L556.70,135.01 L557.02,136.72 L557.34,138.44 L557.65,140.18 L557.97,141.94 L558.29,143.72 L558.60,145.51 L558.92,147.32 L559.24,149.15 L559.55,150.99 L559.87,152.85 L560.19,154.73 L560.50,156.63 L560.82,158.54 L561.14,160.47 L561.45,162.41 L561.77,164.37 L562.09,166.35 L562.40,168.35 L562.72,170.36 L563.04,172.39 L563.35,174.44 L563.67,176.51 L563.99,178.59 L564.30,180.69 L564.62,182.80 L564.94,184.94 L565.25,187.09 L565.57,189.25 L565.89,191.44 L566.20,193.64 L566.52,195.85 L566.84,198.09 L567.15,200.34 L567.47,202.61 L567.79,204.89 L568.10,207.20 L568.42,209.52 L568.74,211.85 L569.05,214.21 L569.37,216.58 L569.69,218.96 L570.00,221.37 L570.32,223.79 L570.63,226.23 L570.95,228.68 L571.27,231.15 L571.58,233.64 L571.90,236.15 L572.22,238.67 L572.53,241.21 L572.85,243.77 L573.17,246.35 L573.48,248.94 L573.80,251.54 L574.12,254.17 L574.43,256.81 L574.75,259.47 L575.07,262.15 L575.38,264.84 L575.70,267.55 L576.02,270.28 L576.33,273.02 L576.65,275.78 L576.97,278.56 L577.28,281.36 L577.60,284.17 L577.92,287.00 L578.23,289.84 L578.55,292.71 L578.87,295.59 L579.18,298.48 L579.50,301.40 L579.82,304.33 L580.13,307.28 L580.45,310.24 L580.77,313.22 L581.08,316.22 L581.40,319.24 L581.72,322.27 L582.03,325.32 L582.35,328.39 L582.67,331.47 L582.98,334.57 L583.30,337.69 L583.62,340.83 L583.93,343.98 L584.25,347.15 L584.57,350.33 L584.88,353.54 L585.20,356.76 L585.52,359.99 L585.83,363.25 L586.15,366.52 L586.47,369.80 L586.78,373.11 L587.10,376.43 L587.42,379.77 L587.73,383.13 L588.05,386.50 L588.36,389.89 L588.68,393.29 L589.00,396.72 L589.31,400.16 L589.63,403.62 L589.95,407.09 L590.26,410.58 L590.58,414.09 L590.90,417.62 L591.21,421.16 L591.53,424.72 L591.85,428.30 L592.16,431.89 L592.48,435.50 L592.80,439.13 L593.11,442.77 L593.43,446.43 L593.75,450.11 L594.06,453.81 L594.38,457.52 L594.70,461.25 L595.01,464.99 L595.33,468.76 L595.65,472.54 L595.96,476.34 L596.28,480.15 L596.60,483.98 L596.91,487.83 L597.23,491.69 L597.55,495.57 L597.86,499.47 L598.18,503.39 L598.50,507.32 L598.81,511.27 L599.13,515.24 L599.45,519.22 L599.76,523.22 L600.08,527.23 L600.40,531.27 L600.71,535.31 L601.03,539.38 L601.35,543.46 L601.66,547.56 L601.98,551.67 L602.30,555.80 L602.61,559.95 L602.93,564.11 L603.25,568.28 L603.56,572.47 L603.88,576.68 L604.20,580.90" stroke="#2ca02c" stroke-width="4.17" stroke-dasharray="15.4 6.67"/>
<path d="M629.34,576.46 L629.63,573.14 L629.92,569.83 L630.22,566.54 L630.51,563.26 L630.80,559.99 L631.10,556.73 L631.39,553.49 L631.69,550.26 L631.98,547.04 L632.27,543.84 L632.57,540.65 L632.86,537.47 L633.16,534.30 L633.45,531.15 L633.74,528.01 L634.04,524.89 L634.33,521.78 L634.63,518.68 L634.92,515.60 L635.21,512.53 L635.51,509.47 L635.80,506.42 L636.10,503.39 L636.39,500.38 L636.68,497.37 L636.98,494.38 L637.27,491.40 L637.57,488.44 L637.86,485.49 L638.15,482.55 L638.45,479.63 L638.74,476.72 L639.04,473.82 L639.33,470.94 L639.62,468.07 L639.92,465.21 L640.21,462.37 L640.51,459.54 L640.80,456.72 L641.09,453.92 L641.39,451.13 L641.68,448.35 L641.98,445.59 L642.27,442.84 L642.56,440.11 L642.86,437.38 L643.15,434.67 L643.45,431.98 L643.74,429.30 L644.03,426.63 L644.33,423.97 L644.62,421.33 L644.92,418.70 L645.21,416.09 L645.50,413.49 L645.80,410.90 L646.09,408.32 L646.39,405.76 L646.68,403.21 L646.97,400.68 L647.27,398.16 L647.56,395.65 L647.86,393.15 L648.15,390.67 L648.44,388.21 L648.74,385.75 L649.03,383.31 L649.33,380.88 L649.62,378.47 L649.91,376.07 L650.21,373.68 L650.50,371.31 L650.79,368.95 L651.09,366.60 L651.38,364.27 L651.68,361.95 L651.97,359.64 L652.26,357.35 L652.56,355.07 L652.85,352.80 L653.15,350.55 L653.44,348.31 L653.73,346.08 L654.03,343.87 L654.32,341.67 L654.62,339.49 L654.91,337.31 L655.20,335.15 L655.50,333.01 L655.79,330.88 L656.09,328.76 L656.38,326.65 L656.67,324.56 L656.97,322.48 L657.26,320.42 L657.56,318.36 L657.85,316.33 L658.14,314.30 L658.44,312.29 L658.73,310.29 L659.03,308.31 L659.32,306.34 L659.61,304.38 L659.91,302.43 L660.20,300.50 L660.50,298.59 L660.79,296.68 L661.08,294.79 L661.38,292.91 L661.67,291.05 L661.97,289.20 L662.26,287.36 L662.55,285.54 L662.85,283.73 L663.14,281.93 L663.44,280.15 L663.73,278.38 L664.02,276.62 L664.32,274.88 L664.61,273.15 L664.91,271.43 L665.20,269.73 L665.49,268.04 L665.79,266.36 L666.08,264.70 L666.38,263.05 L666.67,261.42 L666.96,259.79 L667.26,258.18 L667.55,256.59 L667.85,255.01 L668.14,253.44 L668.43,251.88 L668.73,250.34 L669.02,248.81 L669.31,247.30 L669.61,245.80 L669.90,244.31 L670.20,242.83 L670.49,241.37 L670.78,239.92 L671.08,238.49 L671.37,237.07 L671.67,235.66 L671.96,234.26 L672.25,232.88 L672.55,231.52 L672.84,230.16 L673.14,228.82 L673.43,227.49 L673.72,226.18 L674.02,224.88 L674.31,223.59 L674.61,222.32 L674.90,221.06 L675.19,219.81 L675.49,218.58 L675.78,217.36 L676.08,216.15 L676.37,214.96 L676.66,213.78 L676.96,212.61 L677.25,211.46 L677.55,210.32 L677.84,209.19 L678.13,208.08 L678.43,206.98 L678.72,205.90 L679.02,204.82 L679.31,203.77 L679.60,202.72 L679.90,201.69 L680.19,200.67 L680.49,199.66 L680.78,198.67 L681.07,197.69 L681.37,196.73 L681.66,195.78 L681.96,194.84 L682.25,193.91 L682.54,193.00 L682.84,192.10 L683.13,191.22 L683.43,190.35 L683.72,189.49 L684.01,188.65 L684.31,187.82 L684.60,187.00 L684.90,186.19 L685.19,185.40 L685.48,184.63 L685.78,183.86 L686.07,183.11 L686.37,182.37 L686.66,181.65 L686.95,180.94 L687.25,180.24 L687.54,179.56 L687.84,178.89 L688.13,178.23 L688.42,177.59 L688.72,176.96 L689.01,176.35 L689.30,175.74 L689.60,175.15 L689.89,174.58 L690.19,174.01 L690.48,173.46 L690.77,172.93 L691.07,172.41 L691.36,171.90 L691.66,171.40 L691.95,170.92 L692.24,170.45 L692.54,170.00 L692.83,169.55 L693.13,169.13 L693.42,168.71 L693.71,168.31 L694.01,167.92 L694.30,167.55 L694.60,167.18 L694.89,166.84 L695.18,166.50 L695.48,166.18 L695.77,165.87 L696.07,165.58 L696.36,165.30 L696.65,165.03 L696.95,164.78 L697.24,164.54 L697.54,164.31 L697.83,164.09 L698.12,163.89 L698.42,163.71 L698.71,163.53 L699.01,163.37 L699.30,163.23 L699.59,163.09 L699.89,162.97 L700.18,162.87 L700.48,162.77 L700.77,162.69 L701.06,162.63 L701.36,162.58 L701.65,162.54 L701.95,162.51 L702.24,162.50 L702.53,162.50 L702.83,162.51 L703.12,162.54 L703.42,162.58 L703.71,162.64 L704.00,162.70 L704.30,162.79 L704.59,162.88 L704.89,162.99 L705.18,163.11 L705.47,163.24 L705.77,163.39 L706.06,163.55 L706.36,163.73 L706.65,163.92 L706.94,164.12 L707.24,164.34 L707.53,164.57 L707.83,164.81 L708.12,165.06 L708.41,165.33 L708.71,165.61 L709.00,165.91 L709.29,166.22 L709.59,166.54 L709.88,166.88 L710.18,167.23 L710.47,167.59 L710.76,167.97 L711.06,168.36 L711.35,168.76 L711.65,169.18 L711.94,169.61 L712.23,170.05 L712.53,170.51 L712.82,170.98 L713.12,171.46 L713.41,171.96 L713.70,172.47 L714.00,172.99 L714.29,173.53 L714.59,174.08 L714.88,174.65 L715.17,175.22 L715.47,175.82 L715.76,176.42 L716.06,177.04 L716.35,177.67 L716.64,178.31 L716.94,178.97 L717.23,179.64 L717.53,180.33 L717.82,181.03 L718.11,181.74 L718.41,182.46 L718.70,183.20 L719.00,183.96 L719.29,184.72 L719.58,185.50 L719.88,186.29 L720.17,187.10 L720.47,187.92 L720.76,188.75 L721.05,189.60 L721.35,190.46 L721.64,191.33 L721.94,192.21 L722.23,193.11 L722.52,194.03 L722.82,194.95 L723.11,195.89 L723.41,196.85 L723.70,197.81 L723.99,198.79 L724.29,199.79 L724.58,200.79 L724.88,201.81 L725.17,202.85 L725.46,203.90 L725.76,204.96 L726.05,206.03 L726.35,207.12 L726.64,208.22 L726.93,209.33 L727.23,210.46 L727.52,211.60 L727.82,212.76 L728.11,213.92 L728.40,215.11 L728.70,216.30 L728.99,217.51 L729.28,218.73 L729.58,219.97 L729.87,221.21 L730.17,222.48 L730.46,223.75 L730.75,225.04 L731.05,226.34 L731.34,227.66 L731.64,228.99 L731.93,230.33 L732.22,231.68 L732.52,233.05 L732.81,234.44 L733.11,235.83 L733.40,237.24 L733.69,238.66 L733.99,240.10 L734.28,241.55 L734.58,243.01 L734.87,244.49 L735.16,245.98 L735.46,247.48 L735.75,249.00 L736.05,250.53 L736.34,252.07 L736.63,253.63 L736.93,255.20 L737.22,256.78 L737.52,258.38 L737.81,259.99 L738.10,261.62 L738.40,263.25 L738.69,264.91 L738.99,266.57 L739.28,268.25 L739.57,269.94 L739.87,271.64 L740.16,273.36 L740.46,275.09 L740.75,276.84 L741.04,278.60 L741.34,280.37 L741.63,282.15 L741.93,283.95 L742.22,285.76 L742.51,287.59 L742.81,289.43 L743.10,291.28 L743.40,293.14 L743.69,295.02 L743.98,296.92 L744.28,298.82 L744.57,300.74 L744.87,302.67 L745.16,304.62 L745.45,306.58 L745.75,308.55 L746.04,310.54 L746.34,312.54 L746.63,314.55 L746.92,316.58 L747.22,318.62 L747.51,320.67 L747.81,322.74 L748.10,324.82 L748.39,326.91 L748.69,329.02 L748.98,331.14 L749.27,333.27 L749.57,335.42 L749.86,337.58 L750.16,339.75 L750.45,341.94 L750.74,344.14 L751.04,346.36 L751.33,348.59 L751.63,350.83 L751.92,353.08 L752.21,355.35 L752.51,357.63 L752.80,359.93 L753.10,362.23 L753.39,364.56 L753.68,366.89 L753.98,369.24 L754.27,371.60 L754.57,373.98 L754.86,376.36 L755.15,378.77 L755.45,381.18 L755.74,383.61 L756.04,386.05 L756.33,388.51 L756.62,390.98 L756.92,393.46 L757.21,395.96 L757.51,398.47 L757.80,400.99 L758.09,403.53 L758.39,406.08 L758.68,408.64 L758.98,411.22 L759.27,413.81 L759.56,416.41 L759.86,419.03 L760.15,421.66 L760.45,424.30 L760.74,426.96 L761.03,429.63 L761.33,432.31 L761.62,435.01 L761.92,437.72 L762.21,440.44 L762.50,443.18 L762.80,445.93 L763.09,448.70 L763.39,451.47 L763.68,454.27 L763.97,457.07 L764.27,459.89 L764.56,462.72 L764.86,465.56 L765.15,468.42 L765.44,471.29 L765.74,474.18 L766.03,477.08 L766.33,479.99 L766.62,482.92 L766.91,485.85 L767.21,488.81 L767.50,491.77 L767.80,494.75 L768.09,497.74 L768.38,500.75 L768.68,503.77 L768.97,506.80 L769.26,509.85 L769.56,512.91 L769.85,515.98 L770.15,519.07 L770.44,522.17 L770.73,525.28 L771.03,528.41 L771.32,531.55 L771.62,534.70 L771.91,537.87 L772.20,541.05 L772.50,544.24 L772.79,547.45 L773.09,550.67 L773.38,553.90 L773.67,557.15 L773.97,560.41 L774.26,563.68 L774.56,566.97 L774.85,570.27 L775.14,573.59 L775.44,576.91 L775.73,580.26 L776.03,583.61" stroke="#2ca02c" stroke-width="4.17" stroke-dasharray="15.58 6.75"/>
</g>
<g>
<line x1="103.40" y1="583.65" x2="103.40" y2="593.35" stroke="#000" stroke-width="2.2"/>
<line x1="133.32" y1="583.65" x2="133.32" y2="589.15" stroke="#000" stroke-width="1.65"/>
<line x1="163.24" y1="583.65" x2="163.24" y2="589.15" stroke="#000" stroke-width="1.65"/>
<line x1="193.16" y1="583.65" x2="193.16" y2="589.15" stroke="#000" stroke-width="1.65"/>
<line x1="223.08" y1="583.65" x2="223.08" y2="589.15" stroke="#000" stroke-width="1.65"/>
<line x1="253.00" y1="583.65" x2="253.00" y2="593.35" stroke="#000" stroke-width="2.2"/>
<line x1="282.92" y1="583.65" x2="282.92" y2="589.15" stroke="#000" stroke-width="1.65"/>
<line x1="312.84" y1="583.65" x2="312.84" y2="589.15" stroke="#000" stroke-width="1.65"/>
<line x1="342.76" y1="583.65" x2="342.76" y2="589.15" stroke="#000" stroke-width="1.65"/>
<line x1="372.68" y1="583.65" x2="372.68" y2="589.15" stroke="#000" stroke-width="1.65"/>
<line x1="402.60" y1="583.65" x2="402.60" y2="593.35" stroke="#000" stroke-width="2.2"/>
<line x1="432.52" y1="583.65" x2="432.52" y2="589.15" stroke="#000" stroke-width="1.65"/>
<line x1="462.44" y1="583.65" x2="462.44" y2="589.15" stroke="#000" stroke-width="1.65"/>
<line x1="492.36" y1="583.65" x2="492.36" y2="589.15" stroke="#000" stroke-width="1.65"/>
<line x1="522.28" y1="583.65" x2="522.28" y2="589.15" stroke="#000" stroke-width="1.65"/>
<line x1="552.20" y1="583.65" x2="552.20" y2="593.35" stroke="#000" stroke-width="2.2"/>
<line x1="582.12" y1="583.65" x2="582.12" y2="589.15" stroke="#000" stroke-width="1.65"/>
<line x1="612.04" y1="583.65" x2="612.04" y2="589.15" stroke="#000" stroke-width="1.65"/>
<line x1="641.96" y1="583.65" x2="641.96" y2="589.15" stroke="#000" stroke-width="1.65"/>
<line x1="671.88" y1="583.65" x2="671.88" y2="589.15" stroke="#000" stroke-width="1.65"/>
<line x1="701.80" y1="583.65" x2="701.80" y2="593.35" stroke="#000" stroke-width="2.2"/>
<line x1="731.72" y1="583.65" x2="731.72" y2="589.15" stroke="#000" stroke-width="1.65"/>
<line x1="761.64" y1="583.65" x2="761.64" y2="589.15" stroke="#000" stroke-width="1.65"/>
<line x1="791.56" y1="583.65" x2="791.56" y2="589.15" stroke="#000" stroke-width="1.65"/>
<line x1="821.48" y1="583.65" x2="821.48" y2="589.15" stroke="#000" stroke-width="1.65"/>
<line x1="851.40" y1="583.65" x2="851.40" y2="593.35" stroke="#000" stroke-width="2.2"/>
<line x1="881.32" y1="583.65" x2="881.32" y2="589.15" stroke="#000" stroke-width="1.65"/>
<line x1="911.24" y1="583.65" x2="911.24" y2="589.15" stroke="#000" stroke-width="1.65"/>
<line x1="941.16" y1="583.65" x2="941.16" y2="589.15" stroke="#000" stroke-width="1.65"/>
<line x1="971.08" y1="583.65" x2="971.08" y2="589.15" stroke="#000" stroke-width="1.65"/>
<line x1="1001.00" y1="583.65" x2="1001.00" y2="593.35" stroke="#000" stroke-width="2.2"/>
<line x1="103.4" y1="583.61" x2="97.90" y2="583.61" stroke="#000" stroke-width="1.65"/>
<line x1="103.4" y1="573.59" x2="97.90" y2="573.59" stroke="#000" stroke-width="1.65"/>
<line x1="103.4" y1="565.11" x2="97.90" y2="565.11" stroke="#000" stroke-width="1.65"/>
<line x1="103.4" y1="557.77" x2="97.90" y2="557.77" stroke="#000" stroke-width="1.65"/>
<line x1="103.4" y1="551.29" x2="97.90" y2="551.29" stroke="#000" stroke-width="1.65"/>
<line x1="103.4" y1="545.50" x2="93.70" y2="545.50" stroke="#000" stroke-width="2.2"/>
<line x1="103.4" y1="507.39" x2="97.90" y2="507.39" stroke="#000" stroke-width="1.65"/>
<line x1="103.4" y1="485.10" x2="97.90" y2="485.10" stroke="#000" stroke-width="1.65"/>
<line x1="103.4" y1="469.28" x2="97.90" y2="469.28" stroke="#000" stroke-width="1.65"/>
<line x1="103.4" y1="457.01" x2="97.90" y2="457.01" stroke="#000" stroke-width="1.65"/>
<line x1="103.4" y1="446.99" x2="97.90" y2="446.99" stroke="#000" stroke-width="1.65"/>
<line x1="103.4" y1="438.51" x2="97.90" y2="438.51" stroke="#000" stroke-width="1.65"/>
<line x1="103.4" y1="431.17" x2="97.90" y2="431.17" stroke="#000" stroke-width="1.65"/>
<line x1="103.4" y1="424.69" x2="97.90" y2="424.69" stroke="#000" stroke-width="1.65"/>
<line x1="103.4" y1="418.90" x2="93.70" y2="418.90" stroke="#000" stroke-width="2.2"/>
<line x1="103.4" y1="380.79" x2="97.90" y2="380.79" stroke="#000" stroke-width="1.65"/>
<line x1="103.4" y1="358.50" x2="97.90" y2="358.50" stroke="#000" stroke-width="1.65"/>
<line x1="103.4" y1="342.68" x2="97.90" y2="342.68" stroke="#000" stroke-width="1.65"/>
<line x1="103.4" y1="330.41" x2="97.90" y2="330.41" stroke="#000" stroke-width="1.65"/>
<line x1="103.4" y1="320.39" x2="97.90" y2="320.39" stroke="#000" stroke-width="1.65"/>
<line x1="103.4" y1="311.91" x2="97.90" y2="311.91" stroke="#000" stroke-width="1.65"/>
<line x1="103.4" y1="304.57" x2="97.90" y2="304.57" stroke="#000" stroke-width="1.65"/>
<line x1="103.4" y1="298.09" x2="97.90" y2="298.09" stroke="#000" stroke-width="1.65"/>
<line x1="103.4" y1="292.30" x2="93.70" y2="292.30" stroke="#000" stroke-width="2.2"/>
<line x1="103.4" y1="254.19" x2="97.90" y2="254.19" stroke="#000" stroke-width="1.65"/>
<line x1="103.4" y1="231.90" x2="97.90" y2="231.90" stroke="#000" stroke-width="1.65"/>
<line x1="103.4" y1="216.08" x2="97.90" y2="216.08" stroke="#000" stroke-width="1.65"/>
<line x1="103.4" y1="203.81" x2="97.90" y2="203.81" stroke="#000" stroke-width="1.65"/>
<line x1="103.4" y1="193.79" x2="97.90" y2="193.79" stroke="#000" stroke-width="1.65"/>
<line x1="103.4" y1="185.31" x2="97.90" y2="185.31" stroke="#000" stroke-width="1.65"/>
<line x1="103.4" y1="177.97" x2="97.90" y2="177.97" stroke="#000" stroke-width="1.65"/>
<line x1="103.4" y1="171.49" x2="97.90" y2="171.49" stroke="#000" stroke-width="1.65"/>
<line x1="103.4" y1="165.70" x2="93.70" y2="165.70" stroke="#000" stroke-width="2.2"/>
<line x1="103.4" y1="127.59" x2="97.90" y2="127.59" stroke="#000" stroke-width="1.65"/>
<line x1="103.4" y1="105.30" x2="97.90" y2="105.30" stroke="#000" stroke-width="1.65"/>
<line x1="103.4" y1="89.48" x2="97.90" y2="89.48" stroke="#000" stroke-width="1.65"/>
<line x1="103.4" y1="77.21" x2="97.90" y2="77.21" stroke="#000" stroke-width="1.65"/>
<line x1="103.4" y1="67.19" x2="97.90" y2="67.19" stroke="#000" stroke-width="1.65"/>
<line x1="103.4" y1="58.71" x2="97.90" y2="58.71" stroke="#000" stroke-width="1.65"/>
<line x1="103.4" y1="51.37" x2="97.90" y2="51.37" stroke="#000" stroke-width="1.65"/>
<line x1="103.4" y1="44.89" x2="97.90" y2="44.89" stroke="#000" stroke-width="1.65"/>
<line x1="103.4" y1="39.10" x2="93.70" y2="39.10" stroke="#000" stroke-width="2.2"/>
<line x1="103.4" y1="0.99" x2="97.90" y2="0.99" stroke="#000" stroke-width="1.65"/>
</g>
<rect x="103.4" y="1.0" width="897.6" height="582.65" fill="none" stroke="#000" stroke-width="2.2"/>
<g>
<text x="103.40" y="623" text-anchor="middle">4.5</text>
<text x="253.00" y="623" text-anchor="middle">5.0</text>
<text x="402.60" y="623" text-anchor="middle">5.5</text>
<text x="552.20" y="623" text-anchor="middle">6.0</text>
<text x="701.80" y="623" text-anchor="middle">6.5</text>
<text x="851.40" y="623" text-anchor="middle">7.0</text>
<text x="1001.00" y="623" text-anchor="middle">7.5</text>
<text x="82.5" y="554.70" text-anchor="end">10<tspan dx="-0.3" dy="-10.85" font-size="18.90">0</tspan></text>
<text x="82.5" y="429.30" text-anchor="end">10<tspan dx="-0.3" dy="-10.85" font-size="18.90">1</tspan></text>
<text x="82.5" y="301.80" text-anchor="end">10<tspan dx="-0.3" dy="-10.85" font-size="18.90">2</tspan></text>
<text x="82.5" y="175.20" text-anchor="end">10<tspan dx="-0.3" dy="-10.85" font-size="18.90">3</tspan></text>
<text x="82.5" y="49.70" text-anchor="end">10<tspan dx="-0.3" dy="-10.85" font-size="18.90">4</tspan></text>
<text x="552.20" y="659.9" text-anchor="middle" style="font-kerning:none">Energy (keV)</text>
<text transform="translate(20.4,293.52) rotate(-90)" text-anchor="middle">Counts</text>
</g>
<g>
<rect x="706.5" y="14.8" width="281" height="125.6" rx="5.5" ry="5.5" fill="#fff" fill-opacity="0.8" stroke="#ccc" stroke-opacity="0.8" stroke-width="2.78"/>
<line x1="715" y1="36" x2="772.9" y2="36" stroke="#ff7f0e" stroke-width="4.17"/>
<line x1="717" y1="75.6" x2="770.8" y2="75.6" stroke="#2ca02c" stroke-width="4.17" stroke-dasharray="15.4 6.67"/>
<rect x="717" y="105.5" width="53.8" height="18.8" fill="none" stroke="#1f77b4" stroke-width="2.78"/>
<text x="792" y="44.9" style="font-kerning:none">Fit</text>
<text x="792" y="84.7">X-ray peaks</text>
<text x="792" y="124.5">Measurement</text>
</g>
</svg>
</body></html>
